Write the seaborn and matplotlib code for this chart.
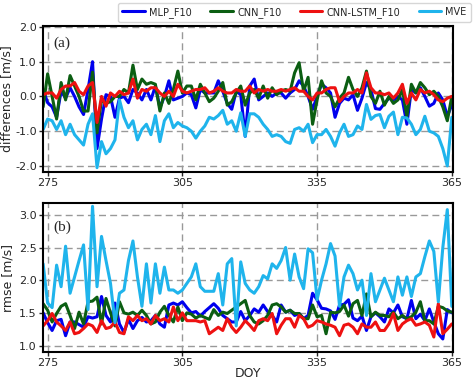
import numpy as np
import pandas as pd
import matplotlib
matplotlib.use('Agg')
import matplotlib.pyplot as plt
import seaborn as sns

days = list(range(274, 366))
models = ['MLP_F10', 'CNN_F10', 'CNN-LSTM_F10', 'MVE']
colors = ['#0000ee', '#0b5e12', '#ee1111', '#1fb4ec']

# panel (a): differences [m/s]
mlp_diff = [0.2, -0.18, -0.3, -0.6, 0.15, -0.05, 0.25, 0.0, -0.3, -0.52, 0.2, 1.0, -1.5, -0.65, 0.05, 0.0, -0.6, -0.05,
            0.0, -0.18, 0.2, 0.1, -0.1, 0.2, -0.1, 0.3, -0.33, 0.0, 0.45, -0.1, -0.05,
            0.0, 0.1, 0.05, -0.33, 0.2, 0.1, 0.1, 0.1, 0.45, 0.15, -0.2, -0.37, 0.15, 0.05, -1.15, 0.3, 0.5, -0.1,
            0.0, 0.1, 0.0, 0.1, 0.1, -0.05, 0.1, 0.2, 0.45, 0.3, 0.0, -0.37, 0.0,
            0.35, 0.25, 0.1, -0.6, -0.2, -0.05, -0.1, 0.05, -0.4, -0.05, 0.4, 0.2, -0.35, -0.37, -0.2, -0.05, -0.1,
            0.0, -0.1, -0.8, 0.2, 0.1, 0.25, 0.0, -0.28, -0.2, 0.1, -0.1, -0.57, -0.25]
cnn_diff = [-0.3, 0.65, 0.0, -0.65, 0.4, -0.1, 0.6, 0.3, 0.0, -0.42, -0.42, 0.7, -1.05, -0.1, -0.2, -0.15, 0.0, 0.0,
            0.2, 0.1, 0.9, 0.2, 0.5, 0.35, 0.4, 0.35, -0.42, 0.1, -0.2, 0.2, 0.73,
            0.1, 0.3, 0.3, -0.1, 0.35, 0.1, -0.15, -0.05, 0.15, 0.4, -0.25, -0.15, 0.1, 0.3, -0.25, 0.1, 0.2, -0.05,
            0.3, -0.05, 0.25, 0.05, 0.15, 0.2, 0.15, 0.68, 0.97, 0.15, 0.55, -0.8, -0.1,
            0.45, 0.1, 0.0, -0.3, -0.05, 0.1, 0.55, 0.2, 0.0, 0.25, 0.73, 0.0, -0.2, 0.15, -0.25, 0.0, -0.2,
            -0.1, 0.2, -0.57, 0.35, 0.1, 0.4, 0.25, 0.05, 0.15, 0.0, -0.3, -0.7, 0.0]
lstm_diff = [0.05, 0.1, 0.1, -0.05, 0.2, 0.3, 0.3, 0.4, 0.15, 0.05, 0.3, 0.4, -0.75, 0.0, -0.28, 0.1, 0.0, 0.15,
             0.05, 0.1, 0.5, -0.05, 0.2, 0.15, 0.25, 0.25, 0.1, 0.0, 0.15, 0.0, 0.35,
             0.15, 0.1, 0.15, 0.2, 0.2, 0.25, 0.1, 0.15, 0.25, 0.15, 0.1, 0.1, 0.2, 0.15, 0.15, 0.3, 0.1, 0.2,
             0.15, 0.2, 0.15, 0.15, 0.2, 0.15, 0.2, 0.25, 0.15, 0.15, 0.0, -0.1, 0.1,
             0.1, 0.2, 0.25, 0.25, -0.15, 0.0, 0.1, 0.1, 0.2, 0.1, 0.68, 0.25, 0.1, 0.1, 0.05, 0.1, -0.05,
             0.1, 0.35, -0.2, 0.1, -0.1, 0.2, 0.1, 0.15, 0.05, -0.1, -0.15, -0.05, 0.0]
mve_diff = [-0.95, -0.65, -0.7, -0.95, -0.7, -1.1, -0.8, -1.1, -1.25, -1.4, -0.8, -0.5, -2.05, -1.3, -1.65, -1.5,
            -1.25, -0.1, -0.6, -0.9, -0.7, -1.25, -0.95, -0.8, -1.1, -0.55, -1.3, -0.7, -0.5, -0.9, -0.75,
            -0.85, -0.9, -1.0, -1.2, -1.0, -0.85, -0.6, -0.65, -0.55, -0.4, -0.8, -0.7, -1.0, -0.47, -1.15, -0.5,
            -0.5, -0.6, -0.8, -0.95, -1.15, -1.1, -1.15, -1.3, -1.35, -0.95, -0.9, -1.0, -0.8, -1.33, -1.1,
            -1.1, -0.95, -1.15, -1.43, -1.05, -0.8, -1.15, -1.1, -0.85, -0.95, -0.23, -0.66, -0.55, -0.52, -0.9,
            -0.57, -0.45, -1.1, -0.6, -0.62, -0.8, -1.1, -0.95, -0.57, -1.0, -1.05, -1.15, -1.5, -2.0, -0.6]

# panel (b): rmse [m/s]
mlp_rmse = [1.5, 1.35, 1.23, 1.38, 1.4, 1.15, 1.36, 1.36, 1.32, 1.28, 1.44, 1.42, 1.44, 1.75, 1.46, 1.36, 1.65, 1.33,
            1.2, 1.4, 1.26, 1.38, 1.43, 1.36, 1.38, 1.46, 1.33, 1.28, 1.62, 1.65, 1.62,
            1.67, 1.58, 1.5, 1.52, 1.45, 1.52, 1.58, 1.64, 1.57, 1.46, 1.41, 1.36, 1.36, 1.52, 1.38, 1.46, 1.56,
            1.51, 1.62, 1.52, 1.46, 1.36, 1.62, 1.51, 1.54, 1.46, 1.49, 1.41, 1.46, 1.8, 1.7,
            1.57, 1.56, 1.53, 1.4, 1.62, 1.63, 1.7, 1.42, 1.38, 1.45, 1.23, 1.44, 1.5, 1.44, 1.36, 1.56, 1.5,
            1.62, 1.44, 1.41, 1.69, 1.41, 1.48, 1.38, 1.56, 1.36, 1.18, 1.1, 1.55, 1.5]
cnn_rmse = [1.64, 1.54, 1.36, 1.49, 1.6, 1.64, 1.46, 1.26, 1.51, 1.33, 1.67, 1.68, 1.74, 1.33, 1.72, 1.5, 1.3, 1.67,
            1.5, 1.48, 1.51, 1.46, 1.54, 1.46, 1.33, 1.36, 1.51, 1.6, 1.46, 1.36, 1.59,
            1.38, 1.5, 1.48, 1.42, 1.46, 1.43, 1.4, 1.55, 1.46, 1.51, 1.49, 1.54, 1.59, 1.64, 1.69, 1.46, 1.36,
            1.33, 1.38, 1.46, 1.62, 1.64, 1.59, 1.51, 1.54, 1.49, 1.49, 1.41, 1.41, 1.62, 1.44,
            1.46, 1.18, 1.51, 1.5, 1.52, 1.62, 1.45, 1.64, 1.69, 1.46, 1.79, 1.44, 1.51, 1.46, 1.46, 1.44, 1.51,
            1.41, 1.46, 1.41, 1.44, 1.51, 1.67, 1.38, 1.38, 1.33, 1.6, 1.58, 1.53, 1.51]
lstm_rmse = [1.3, 1.38, 1.49, 1.36, 1.3, 1.23, 1.36, 1.18, 1.2, 1.26, 1.33, 1.3, 1.2, 1.38, 1.26, 1.28, 1.36, 1.2,
             1.18, 1.44, 1.38, 1.46, 1.38, 1.41, 1.33, 1.46, 1.38, 1.41, 1.36, 1.59, 1.38,
             1.5, 1.38, 1.38, 1.38, 1.36, 1.38, 1.18, 1.23, 1.28, 1.23, 1.41, 1.28, 1.2, 1.28, 1.38, 1.31, 1.23,
             1.38, 1.41, 1.38, 1.49, 1.18, 1.31, 1.41, 1.41, 1.28, 1.46, 1.41, 1.28, 1.31, 1.38,
             1.36, 1.33, 1.31, 1.28, 1.15, 1.31, 1.33, 1.28, 1.18, 1.33, 1.28, 1.28, 1.36, 1.23, 1.23, 1.33, 1.49,
             1.23, 1.33, 1.38, 1.41, 1.31, 1.33, 1.36, 1.31, 1.13, 1.64, 1.18, 1.25, 1.33]
mve_rmse = [2.25, 1.65, 1.58, 2.23, 1.9, 2.52, 1.8, 2.05, 2.3, 2.54, 1.55, 3.13, 1.9, 2.67, 2.3, 1.95, 1.35, 1.8,
            1.85, 2.3, 2.6, 2.05, 1.6, 2.25, 1.65, 2.25, 1.8, 2.2, 1.85, 1.85, 1.8,
            1.85, 1.95, 2.05, 2.25, 1.9, 1.83, 1.83, 1.83, 2.1, 1.62, 2.25, 2.33, 1.3, 2.28, 1.95, 1.85, 1.8,
            1.9, 2.07, 2.02, 2.25, 2.18, 2.3, 2.5, 2.0, 2.4, 2.05, 1.87, 2.48, 2.42, 1.7,
            2.0, 2.25, 2.56, 2.37, 1.6, 2.05, 2.23, 2.1, 1.85, 2.0, 1.46, 2.1, 1.67, 1.85, 2.03, 1.85, 1.67,
            2.05, 1.77, 2.05, 1.75, 2.05, 2.1, 2.36, 2.6, 2.44, 1.67, 2.5, 3.08, 1.6]

xticks = [275, 305, 335, 365]
yticks_a = [-2.0, -1.0, 0.0, 1.0, 2.0]
yticks_b = [1.0, 1.5, 2.0, 2.5, 3.0]

def long_table(series):
    rows = []
    for name, vals in zip(models, series):
        rows.append(pd.DataFrame({'DOY': days, 'value': vals, 'model': name}))
    return pd.concat(rows, ignore_index=True)

df_a = long_table([mlp_diff, cnn_diff, lstm_diff, mve_diff])
df_b = long_table([mlp_rmse, cnn_rmse, lstm_rmse, mve_rmse])

sns.set_style("ticks")
plt.rcParams['font.family'] = ['DejaVu Sans']

fig = plt.figure(figsize=(4.74, 3.81), dpi=100)
ax1 = fig.add_axes([0.091, 0.549, 0.865, 0.383])
ax2 = fig.add_axes([0.091, 0.076, 0.865, 0.391])

palette = dict(zip(models, colors))
for ax, df in [(ax1, df_a), (ax2, df_b)]:
    sns.lineplot(data=df, x='DOY', y='value', hue='model', hue_order=models,
                 palette=palette, linewidth=2.2, ax=ax, legend=False)
    ax.set_xlim(274, 365.3)
    ax.set_xticks(xticks)
    ax.grid(True, linestyle=(0, (5, 3)), color='#999999', linewidth=1.0)
    for s in ax.spines.values():
        s.set_linewidth(1.5)
        s.set_color('black')
    ax.tick_params(labelsize=8, length=3, width=1, pad=1.5)

ax1.set_ylim(-2.17, 2.03)
ax1.set_yticks(yticks_a)
ax1.set_yticklabels([f'{v:.1f}' for v in yticks_a])
ax1.set_xlabel('')
ax1.set_ylabel('differences [m/s]', fontsize=9, labelpad=1)

ax2.set_ylim(0.9, 3.18)
ax2.set_yticks(yticks_b)
ax2.set_yticklabels([f'{v:.1f}' for v in yticks_b])
ax2.set_xlabel('DOY', fontsize=9, labelpad=0)
ax2.xaxis.set_label_coords(0.5, -0.1)
ax2.set_ylabel('rmse [m/s]', fontsize=9, labelpad=3)

ax1.text(0.025, 0.93, '(a)', transform=ax1.transAxes, fontsize=11,
         family='Liberation Serif', va='top')
ax2.text(0.025, 0.88, '(b)', transform=ax2.transAxes, fontsize=11,
         family='Liberation Serif', va='top')

handles = [plt.Line2D([], [], color=c, linewidth=2.2) for c in colors]
fig.legend(handles, models, loc='upper right', bbox_to_anchor=(1.003, 1.005), ncol=4,
           fontsize=7, frameon=True, handlelength=2.3, columnspacing=1.9,
           handletextpad=0.45, borderpad=0.4, fancybox=True)

fig.savefig('out.png', dpi=100)
